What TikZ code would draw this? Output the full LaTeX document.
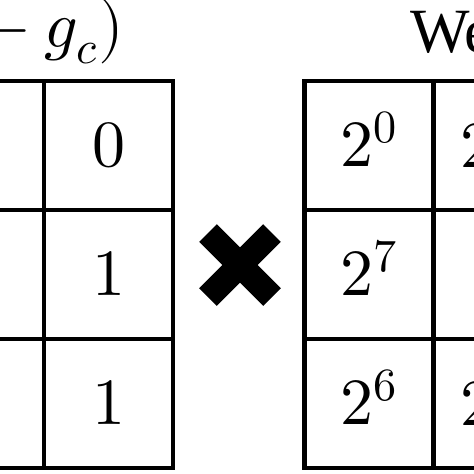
\documentclass[tikz,border=0pt]{standalone}
\usepackage{fontspec}
\usepackage{unicode-math}
\setmainfont{Liberation Serif}
\setmathfont{Latin Modern Math}
\tikzset{
    cell/.style={
        rectangle,
        draw=black,
        line width=4.5pt,
        minimum width=129pt,
        minimum height=129pt,
        inner sep=0pt,
        text height=42pt,
        text depth=0pt,
        font=\fontsize{66}{70}\selectfont
    },
    cutdigit/.style={
        inner sep=0pt,
        anchor=base west,
        font=\fontsize{66}{70}\selectfont
    },
    heading/.style={
        inner sep=0pt,
        font=\fontsize{#1}{70}\selectfont
    },
    cross/.style={
        line width=25pt,
        line cap=butt
    }
}
\begin{document}
\begin{tikzpicture}[x=1pt, y=-1pt]
    \useasboundingbox (0,0) rectangle (474,474);
    % left grid: only its last two columns are in view
    \node[cell] (s11) at (-20.5,145.5) {};
    \node[cell] (s12) at (108.5,145.5) {$0$};
    \node[cell] (s21) at (-20.5,274.5) {};
    \node[cell] (s22) at (108.5,274.5) {$1$};
    \node[cell] (s31) at (-20.5,403.5) {};
    \node[cell] (s32) at (108.5,403.5) {$1$};
    % right grid: weights, its second column runs off the edge
    \node[cell] (w11) at (369,145.5) {$2^0$};
    \node[cell] (w12) at (498,145.5) {};
    \node[cell] (w21) at (369,274.5) {$2^7$};
    \node[cell] (w22) at (498,274.5) {};
    \node[cell] (w31) at (369,403.5) {$2^6$};
    \node[cell] (w32) at (498,403.5) {};
    \node[cutdigit] (w12num) at (460,167) {$2$};
    \node[cutdigit] (w32num) at (460,425) {$2$};
    % headings above the grids
    \node[heading=66, anchor=base east] (shead) at (124,47) {${}-g_c)$};
    \node[heading=63, anchor=base west] (whead) at (410,52) {We};
    % multiplication sign between the grids
    \coordinate (times) at (240,265);
    \draw[cross] ([shift={(-32,-32)}]times) -- ([shift={(32,32)}]times);
    \draw[cross] ([shift={(-32,32)}]times) -- ([shift={(32,-32)}]times);
\end{tikzpicture}
\end{document}
